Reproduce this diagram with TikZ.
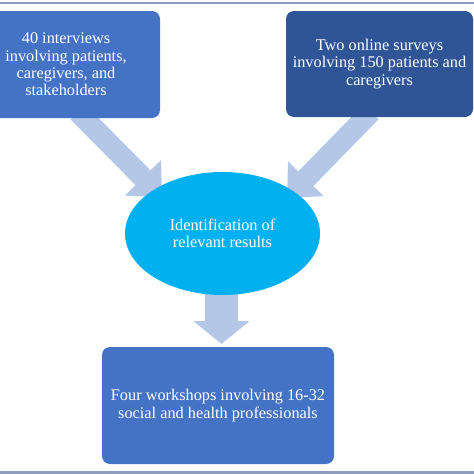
\documentclass[tikz,border=0pt]{standalone}
\usepackage{fontspec}
\setmainfont{Liberation Serif}
\usetikzlibrary{arrows.meta,shapes.geometric}
\definecolor{boxblue}{HTML}{4472C4}
\definecolor{boxdark}{HTML}{2F5597}
\definecolor{ellblue}{HTML}{00B0F0}
\definecolor{arrowblue}{HTML}{B4C7E7}
\definecolor{rulecol}{HTML}{8C9DBF}
\tikzset{
  rbox/.style={rectangle, rounded corners=8pt, draw=none, text=white, align=center,
    font=\fontsize{16.3pt}{17.4pt}\selectfont, inner sep=0pt},
  ellnode/.style={ellipse, fill=ellblue, draw=none, text=white, align=center,
    font=\fontsize{16.3pt}{17.4pt}\selectfont, inner sep=0pt},
  blockarrow/.style={draw=arrowblue, line width=#1, line cap=butt},
}
\begin{document}
\begin{tikzpicture}[x=1pt,y=-1pt]
\useasboundingbox (0,0) rectangle (474,474);
\clip (0,0) rectangle (474,474);
\fill[white] (0,0) rectangle (474,474);
% frame rules
\draw[rulecol, line width=1.5pt] (0,3) -- (474,3);
\draw[rulecol, line width=3pt] (0,472) -- (474,472);
% arrow start coordinates
\coordinate (s1) at (78,112);
\coordinate (t1) at (162,197);
\coordinate (s2) at (371,112);
\coordinate (t2) at (287,198);
\coordinate (s3) at (221.5,285);
\coordinate (t3) at (221.5,344);
% arrows
\draw[blockarrow=21pt, -{Triangle[width=49pt,length=27pt]}] (s1) -- (t1);
\draw[blockarrow=21pt, -{Triangle[width=48pt,length=27pt]}] (s2) -- (t2);
\draw[blockarrow=33pt, -{Triangle[width=55pt,length=23pt]}] (s3) -- (t3);
% boxes
\node[rbox, fill=boxblue, minimum width=188pt, minimum height=107pt] (interviews) at (66,64.5)
  {40 interviews\\involving patients,\\caregivers, and\\stakeholders};
\node[rbox, fill=boxdark, minimum width=187pt, minimum height=106pt] (surveys) at (379.5,64)
  {Two online surveys\\involving 150 patients and\\caregivers};
\node[ellnode, minimum width=195pt, minimum height=123pt] (ident) at (222.5,233.5)
  {Identification of\\relevant results};
\node[rbox, fill=boxblue, minimum width=232pt, minimum height=117pt] (workshops) at (218,405.5)
  {Four workshops involving 16-32\\social and health professionals};
\end{tikzpicture}
\end{document}
